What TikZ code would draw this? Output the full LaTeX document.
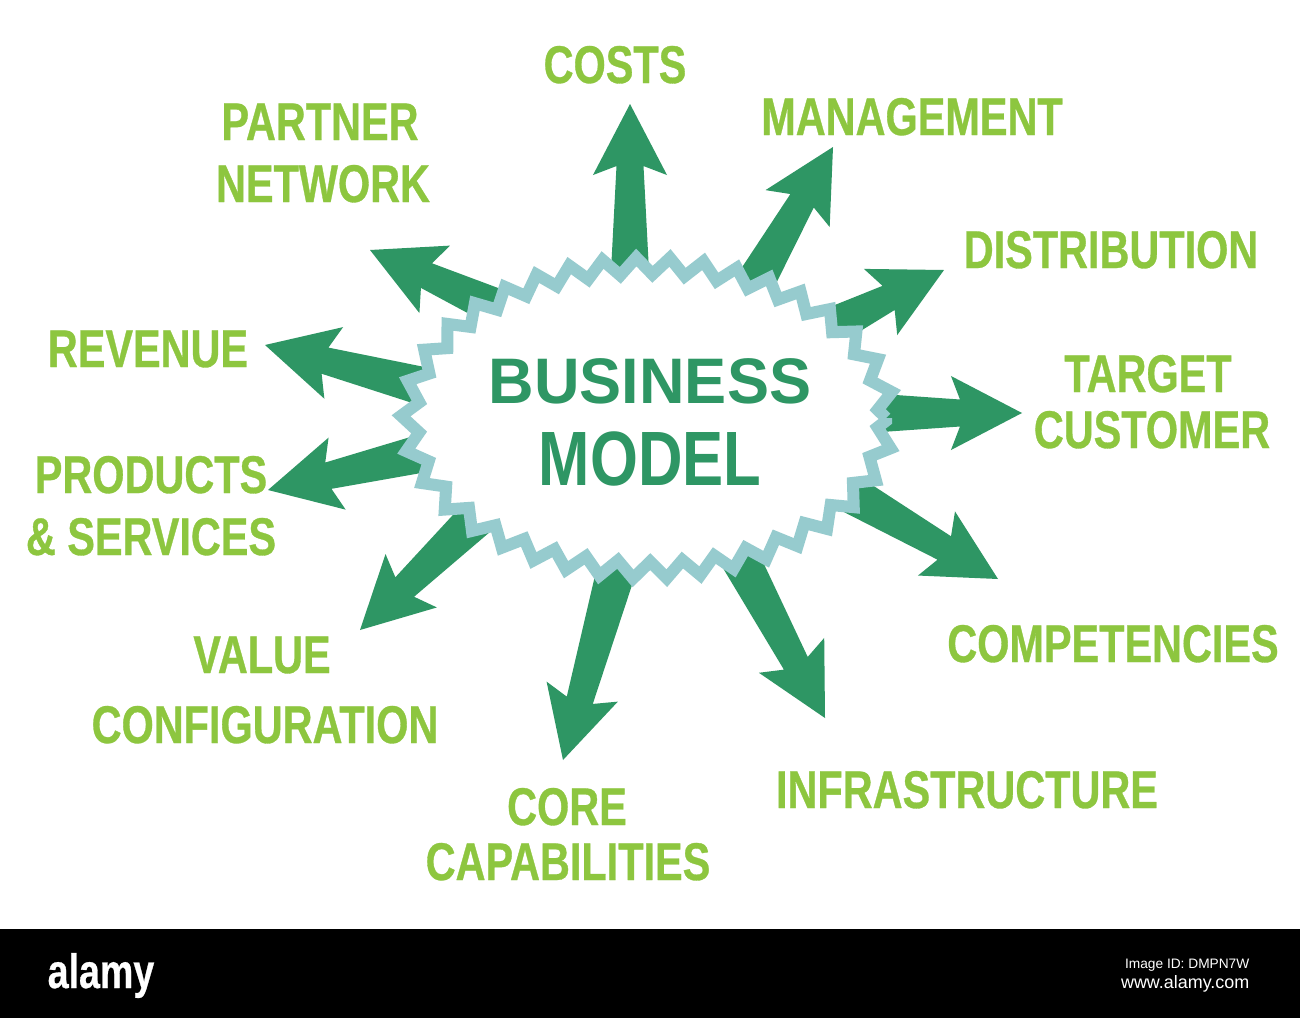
\documentclass[tikz,border=0pt]{standalone}
\usepackage{fontspec}
\usetikzlibrary{calc,decorations.pathmorphing}
\newfontfamily\lblfont[FakeStretch=0.78,FakeBold=0.6]{Liberation Sans}
\newfontfamily\bizfont[FakeStretch=0.98]{Liberation Sans}
\newfontfamily\modelfont[FakeStretch=0.80]{Liberation Sans}
\newfontfamily\barfont{Liberation Sans}
\definecolor{lblgreen}{RGB}{141,198,63}
\definecolor{arrowgreen}{RGB}{46,150,100}
\definecolor{zigblue}{RGB}{150,203,206}

% #1 base, #2 tip
\newcommand{\growarrow}[2]{%
  \fill[arrowgreen] (#2)
    -- ($(#2)!0.71cm!(#1)!0.37cm!90:(#2)$)
    -- ($(#2)!0.62cm!(#1)!0.135cm!90:(#2)$)
    -- ($(#1)!0.205cm!90:(#2)$)
    -- ($(#1)!0.205cm!-90:(#2)$)
    -- ($(#2)!0.62cm!(#1)!0.135cm!-90:(#2)$)
    -- ($(#2)!0.71cm!(#1)!0.37cm!-90:(#2)$)
    -- cycle;}

\begin{document}
\begin{tikzpicture}[
      x=0.01cm, y=-0.01cm,
      lbl/.style={anchor=base, inner sep=0pt, text=lblgreen,
        font=\lblfont\bfseries\fontsize{15.1pt}{18pt}\selectfont},
      biz/.style={anchor=base, inner sep=0pt, text=arrowgreen,
        font=\bizfont\bfseries\fontsize{18.3pt}{22pt}\selectfont},
      model/.style={anchor=base, inner sep=0pt, text=arrowgreen,
        font=\modelfont\bfseries\fontsize{21.9pt}{26pt}\selectfont},
      zigzagrim/.style={fill=white, draw=zigblue, line width=0.12cm,
        decorate, decoration={zigzag, segment length=0.33cm, amplitude=0.085cm}},
      barnote/.style={anchor=base east, inner sep=0pt, text=white,
        font=\barfont\fontsize{#1}{#1}\selectfont}
    ]
    \useasboundingbox (0,0) rectangle (1300,1018);
    \fill[white] (0,0) rectangle (1300,1018);

    \coordinate (c) at (648,418);
    \foreach \nm/\bx/\by/\tx/\ty in {
        costs/630/300/630/104, mgmt/745/300/833/147, distrib/815/335/944/270,
        target/860/413/1022/413, compet/830/482/998/579, infra/730/540/825/718,
        core/622/550/563/760, value/490/505/360/630, products/445/448/268/490,
        revenue/445/392/265/345, partner/520/318/370/250} {
      \coordinate (\nm-base) at (\bx,\by);
      \coordinate (\nm-tip) at (\tx,\ty);
      \growarrow{\nm-base}{\nm-tip}
    }

    \path[zigzagrim] (c) ellipse [x radius=2.38cm, y radius=1.52cm];
    \node[biz] (business) at (650,403) {BUSINESS};
    \node[model] (model) at (650,485) {MODEL};

    \node[lbl] (costs) at (615,83) {COSTS};
    \node[lbl] (mgmt) at (912,135) {MANAGEMENT};
    \node[lbl] (distrib) at (1111,268) {DISTRIBUTION};
    \node[lbl] (target1) at (1148,392) {TARGET};
    \node[lbl] (target2) at (1152,448) {CUSTOMER};
    \node[lbl] (compet) at (1113,662) {COMPETENCIES};
    \node[lbl] (infra) at (967,808) {INFRASTRUCTURE};
    \node[lbl] (core1) at (567,825) {CORE};
    \node[lbl] (core2) at (568,880) {CAPABILITIES};
    \node[lbl] (value1) at (262,673) {VALUE};
    \node[lbl] (value2) at (265,743) {CONFIGURATION};
    \node[lbl] (products1) at (151,493) {PRODUCTS};
    \node[lbl] (products2) at (151,555) {\& SERVICES};
    \node[lbl] (revenue) at (148,367) {REVENUE};
    \node[lbl] (partner1) at (320,140) {PARTNER};
    \node[lbl] (partner2) at (323,202) {NETWORK};

    \fill[black] (0,929) rectangle (1300,1018);
    \node[anchor=base, inner sep=0pt, text=white,
      font=\lblfont\bfseries\fontsize{13.7pt}{16pt}\selectfont] (alamy) at (101,988) {alamy};
    \node[barnote=3.9pt] (imgid) at (1250,968) {Image ID: DMPN7W};
    \node[barnote=5.1pt] (site) at (1250,988) {www.alamy.com};
  \end{tikzpicture}
\end{document}
